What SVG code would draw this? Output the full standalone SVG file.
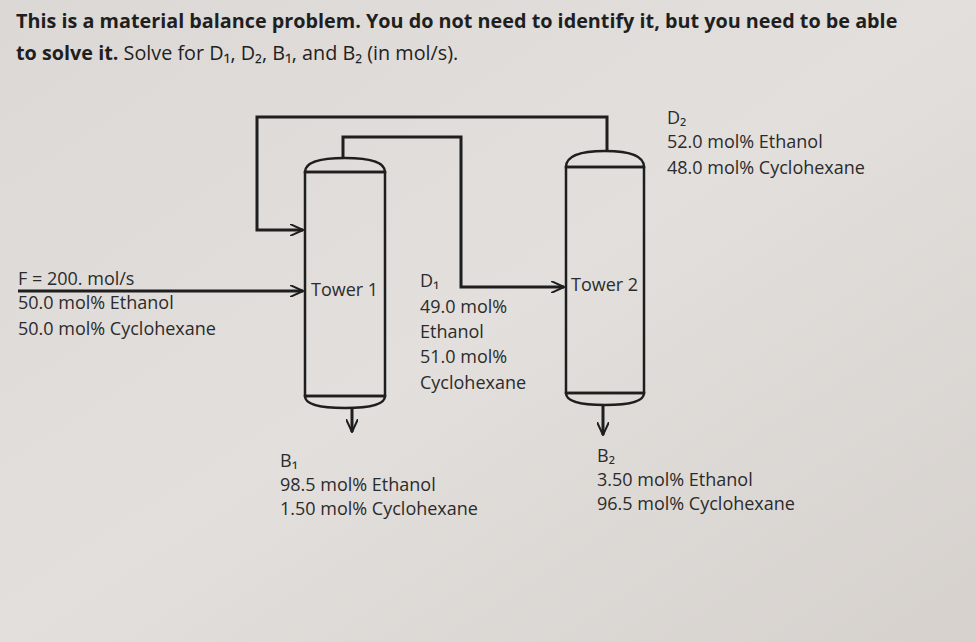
<svg xmlns="http://www.w3.org/2000/svg" width="976" height="642" viewBox="0 0 976 642">
<defs>
<linearGradient id="bg" x1="0" y1="0" x2="1" y2="1"><stop offset="0" stop-color="#dcd8d5"/><stop offset="0.5" stop-color="#e2dfdc"/><stop offset="1" stop-color="#d6d1cd"/></linearGradient>
<marker id="ah" markerWidth="14" markerHeight="12" refX="13" refY="6" orient="auto" markerUnits="userSpaceOnUse"><path d="M0,0 L13,6 L0,12" fill="none" stroke="#1e1e1e" stroke-width="2"/></marker>
</defs>
<style>
text{font-family:"Open Sans","Liberation Sans",sans-serif;fill:#2b2b2b;font-size:18px}
.t{font-size:19.8px;fill:#1f1f1f}
.b{font-weight:bold}
.ln{fill:none;stroke:#1e1e1e;stroke-width:3}
.tw{fill:none;stroke:#1e1e1e;stroke-width:2.5}
</style>
<rect width="976" height="642" fill="url(#bg)"/>
<text class="t b" x="16" y="28">This is a material balance problem.  You do not need to identify it, but you need to be able</text>
<text class="t" x="16" y="60"><tspan class="b">to solve it.</tspan>  Solve for D₁, D₂, B₁, and B₂ (in mol/s).</text>
<g id="connectors">
<path class="ln" d="M607,151 V117 H257 V230 H303" marker-end="url(#ah)"/>
<path class="ln" d="M343,158 V137 H461 V287 H564" marker-end="url(#ah)"/>
<path class="ln" d="M18,291 H303" marker-end="url(#ah)"/>
<path class="ln" d="M352,408 V432" marker-end="url(#ah)"/>
<path class="ln" d="M603,405 V435" marker-end="url(#ah)"/>
</g>
<g id="tower1">
<path class="tw" d="M305,172 Q305,158 345,158 Q385,158 385,172 Z M305,396 Q305,408 345,408 Q385,408 385,396 Z"/>
<rect class="tw" x="305" y="172" width="80" height="224"/>
<text x="311" y="296" font-size="17.5">Tower 1</text>
</g>
<g id="tower2">
<path class="tw" d="M566,167 Q566,151 605,151 Q644,151 644,167 Z M566,393 Q566,405 605,405 Q644,405 644,393 Z"/>
<rect class="tw" x="566" y="167" width="78" height="226"/>
<text x="571" y="291" font-size="17.5">Tower 2</text>
</g>
<g id="feed"><text x="18" y="285">F = 200. mol/s</text><text x="18" y="309">50.0 mol% Ethanol</text><text x="18" y="335">50.0 mol% Cyclohexane</text></g>
<g id="d1"><text x="420" y="287">D₁</text><text x="420" y="313">49.0 mol%</text><text x="420" y="338">Ethanol</text><text x="420" y="363">51.0 mol%</text><text x="420" y="389">Cyclohexane</text></g>
<g id="d2"><text x="667" y="124">D₂</text><text x="667" y="148">52.0 mol% Ethanol</text><text x="667" y="174">48.0 mol% Cyclohexane</text></g>
<g id="b1"><text x="280" y="467">B₁</text><text x="280" y="491">98.5 mol% Ethanol</text><text x="280" y="515">1.50 mol% Cyclohexane</text></g>
<g id="b2"><text x="597" y="462">B₂</text><text x="597" y="486">3.50 mol% Ethanol</text><text x="597" y="510">96.5 mol% Cyclohexane</text></g>
</svg>
